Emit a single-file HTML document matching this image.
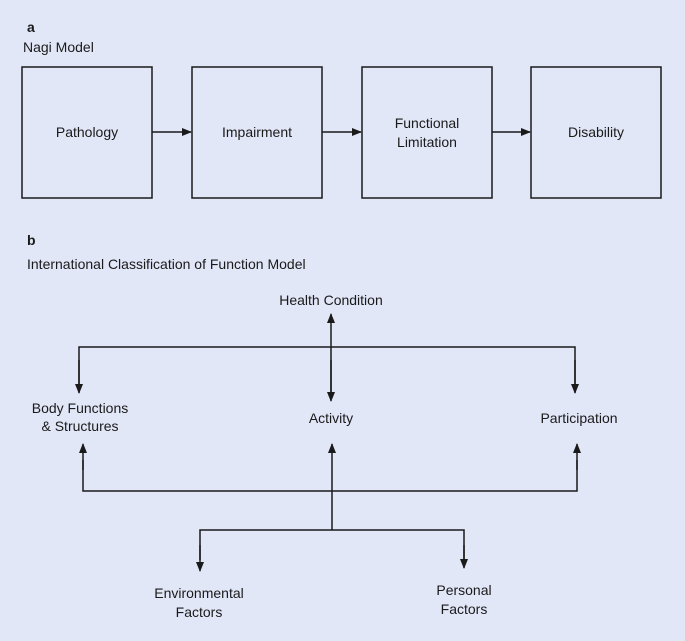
<!DOCTYPE html>
<html><head><style>
body{margin:0;background:#e2e7f8;}
svg{display:block;font-family:"Liberation Sans",sans-serif;font-size:14px;fill:#1a1a1a;}
</style></head><body>
<svg width="685" height="641" viewBox="0 0 685 641">
<rect width="685" height="641" fill="#e2e7f8"/>
<defs><marker id="a" markerWidth="10" markerHeight="8" refX="9" refY="4" orient="auto" markerUnits="userSpaceOnUse"><path d="M0,0 L10,4 L0,8 Z" fill="#1a1a1a"/></marker></defs>
<text x="27" y="32" font-weight="bold">a</text>
<text x="23" y="52">Nagi Model</text>
<g fill="none" stroke="#1a1a1a" stroke-width="1.5">
<rect x="22" y="67" width="130" height="131"/>
<rect x="192" y="67" width="130" height="131"/>
<rect x="362" y="67" width="130" height="131"/>
<rect x="531" y="67" width="130" height="131"/>
<line x1="152" y1="132" x2="191" y2="132" marker-end="url(#a)"/>
<line x1="322" y1="132" x2="361" y2="132" marker-end="url(#a)"/>
<line x1="492" y1="132" x2="530" y2="132" marker-end="url(#a)"/>
</g>
<g text-anchor="middle">
<text x="87" y="137">Pathology</text>
<text x="257" y="137">Impairment</text>
<text x="427" y="128">Functional</text>
<text x="427" y="147">Limitation</text>
<text x="596" y="137">Disability</text>
</g>
<text x="27" y="245" font-weight="bold">b</text>
<text x="27" y="269">International Classification of Function Model</text>
<g fill="none" stroke="#1a1a1a" stroke-width="1.5">
<line x1="331" y1="393" x2="331" y2="314" marker-end="url(#a)"/>
<line x1="331" y1="360" x2="331" y2="401" marker-end="url(#a)"/>
<polyline points="79,392 79,347 575,347 575,392"/>
<line x1="79" y1="360" x2="79" y2="393" marker-end="url(#a)"/>
<line x1="575" y1="360" x2="575" y2="393" marker-end="url(#a)"/>
<polyline points="83,460 83,491 577,491 577,460"/>
<line x1="83" y1="470" x2="83" y2="444" marker-end="url(#a)"/>
<line x1="577" y1="470" x2="577" y2="444" marker-end="url(#a)"/>
<line x1="332" y1="530" x2="332" y2="444" marker-end="url(#a)"/>
<polyline points="200,560 200,530 464,530 464,560"/>
<line x1="200" y1="545" x2="200" y2="571" marker-end="url(#a)"/>
<line x1="464" y1="545" x2="464" y2="568" marker-end="url(#a)"/>
</g>
<g text-anchor="middle">
<text x="331" y="305">Health Condition</text>
<text x="80" y="413">Body Functions</text>
<text x="80" y="431">&amp; Structures</text>
<text x="331" y="423">Activity</text>
<text x="579" y="423">Participation</text>
<text x="199" y="598">Environmental</text>
<text x="199" y="617">Factors</text>
<text x="464" y="595">Personal</text>
<text x="464" y="614">Factors</text>
</g>
</svg>
</body></html>
